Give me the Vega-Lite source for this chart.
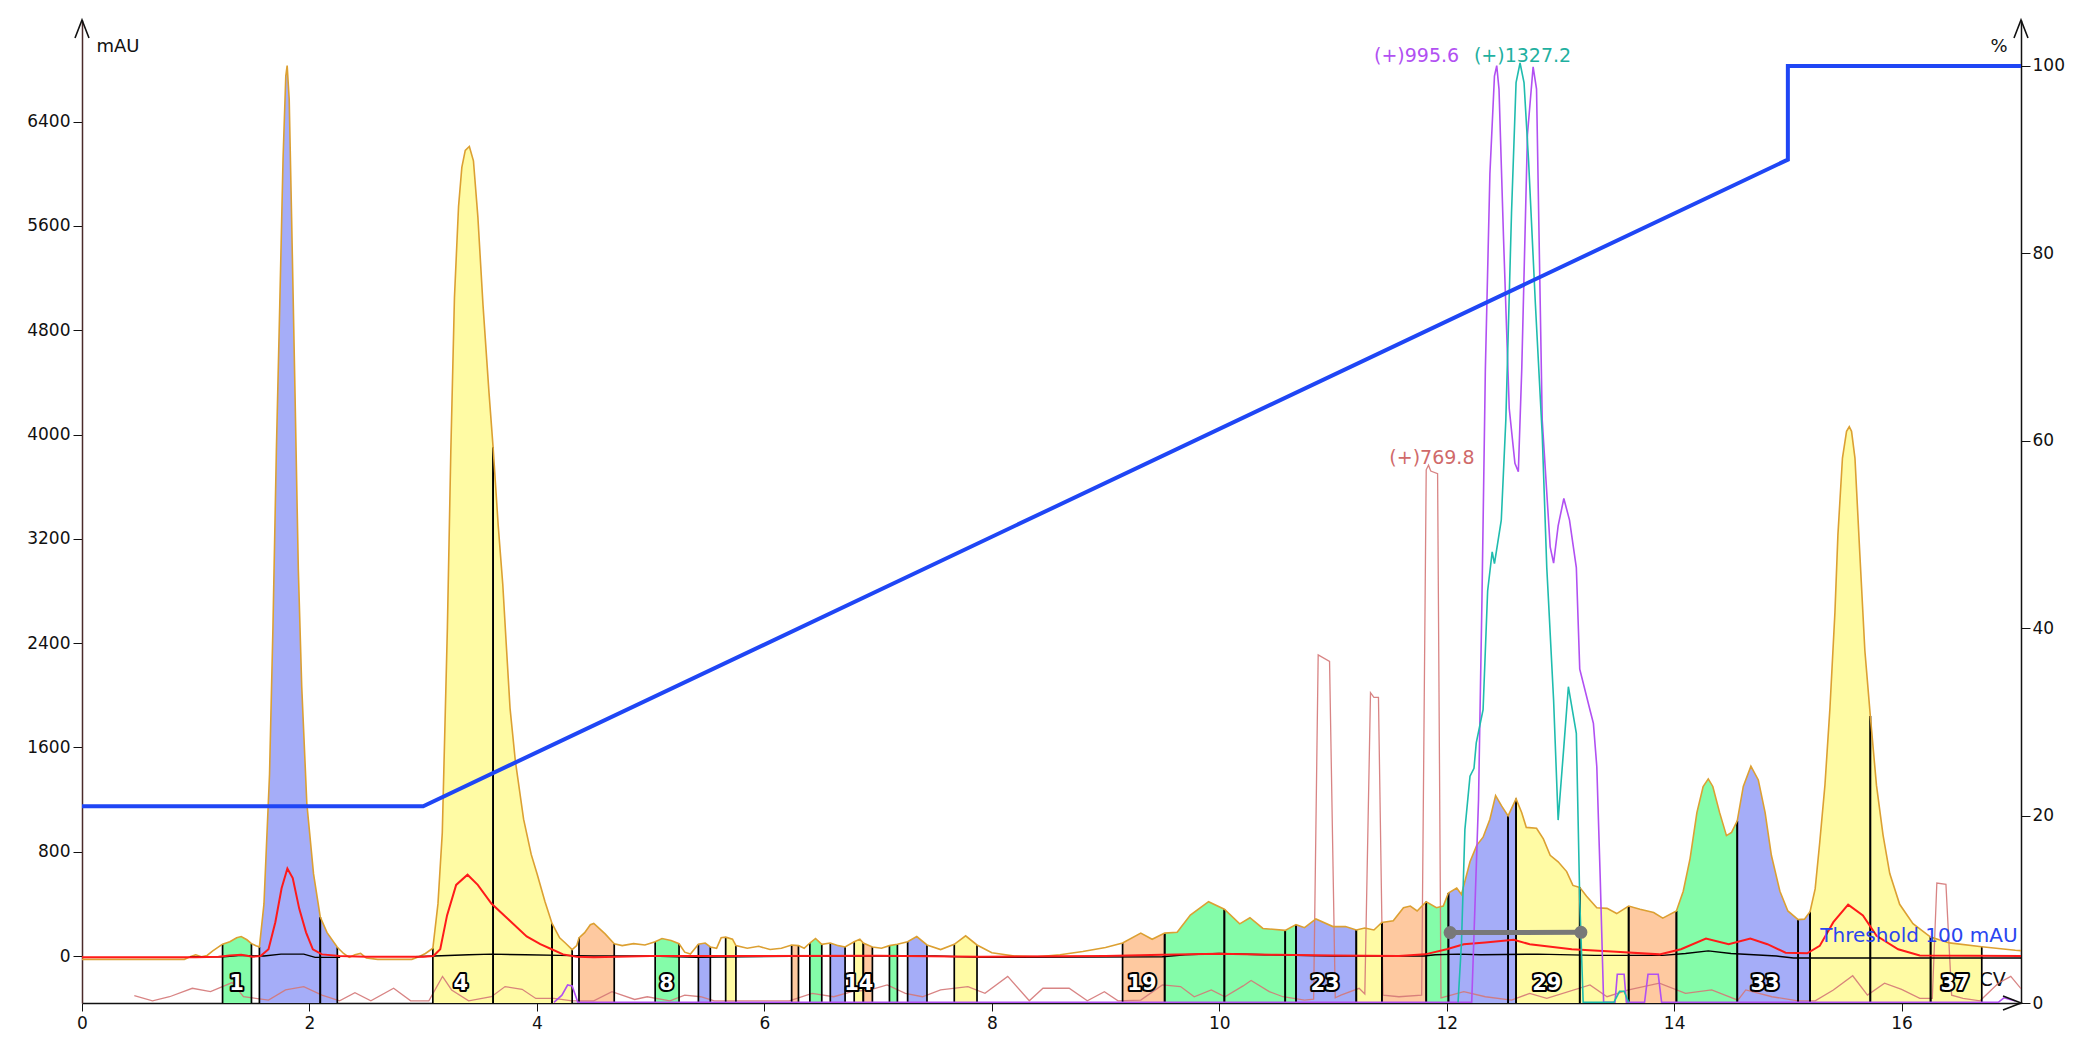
{
  "$schema": "https://vega.github.io/schema/vega-lite/v6.json",
  "width": 1939,
  "height": 983,
  "autosize": {"type": "none"},
  "padding": {"left": 82, "top": 20, "right": 61, "bottom": 40},
  "background": "white",
  "config": {"view": {"stroke": null}, "font": "DejaVu Sans"},
  "datasets": {
    "uv": [
      {"x":0,"y":-25},{"x":0.5,"y":-25},{"x":0.9,"y":-25},{"x":0.95,"y":-5},{"x":1.0,"y":10},{"x":1.05,"y":-5},{"x":1.1,"y":5},{"x":1.15,"y":40},
      {"x":1.236,"y":91,"f":1},{"x":1.3,"y":110,"f":1},{"x":1.36,"y":140,"f":1},{"x":1.4,"y":150,"f":1},{"x":1.45,"y":125,"f":1},{"x":1.49,"y":95,"f":1},
      {"x":1.53,"y":80},
      {"x":1.56,"y":70,"f":2},{"x":1.6,"y":400,"f":2},{"x":1.649,"y":1395,"f":2},{"x":1.679,"y":2520,"f":2},{"x":1.709,"y":3870,"f":2},{"x":1.739,"y":4995,"f":2},{"x":1.768,"y":6120,"f":2},{"x":1.792,"y":6750,"f":2},{"x":1.804,"y":6830,"f":2},{"x":1.822,"y":6570,"f":2},{"x":1.843,"y":5670,"f":2},{"x":1.873,"y":4320,"f":2},{"x":1.902,"y":2970,"f":2},{"x":1.932,"y":2070,"f":2},{"x":1.977,"y":1170,"f":2},{"x":2.036,"y":630,"f":2},{"x":2.095,"y":300,"f":2},
      {"x":2.095,"y":300,"f":3},{"x":2.155,"y":180,"f":3},{"x":2.245,"y":68,"f":3},
      {"x":2.3,"y":20},{"x":2.35,"y":-10},{"x":2.4,"y":10},{"x":2.45,"y":20},{"x":2.5,"y":-15},{"x":2.6,"y":-25},{"x":2.9,"y":-25},{"x":2.95,"y":-10},{"x":3.02,"y":20},
      {"x":3.085,"y":60,"f":4},{"x":3.13,"y":400,"f":4},{"x":3.168,"y":945,"f":4},{"x":3.213,"y":2520,"f":4},{"x":3.243,"y":3870,"f":4},{"x":3.275,"y":5050,"f":4},{"x":3.311,"y":5750,"f":4},{"x":3.34,"y":6050,"f":4},{"x":3.37,"y":6180,"f":4},{"x":3.406,"y":6210,"f":4},{"x":3.442,"y":6100,"f":4},{"x":3.481,"y":5670,"f":4},{"x":3.526,"y":4995,"f":4},{"x":3.579,"y":4320,"f":4},{"x":3.615,"y":3900,"f":4},
      {"x":3.615,"y":3900,"f":5},{"x":3.66,"y":3300,"f":5},{"x":3.7,"y":2850,"f":5},{"x":3.73,"y":2400,"f":5},{"x":3.764,"y":1900,"f":5},{"x":3.81,"y":1500,"f":5},{"x":3.883,"y":1050,"f":5},{"x":3.95,"y":780,"f":5},{"x":4.002,"y":630,"f":5},{"x":4.07,"y":420,"f":5},{"x":4.133,"y":250,"f":5},
      {"x":4.133,"y":250,"f":6},{"x":4.2,"y":140,"f":6},{"x":4.25,"y":100,"f":6},{"x":4.31,"y":50,"f":6},
      {"x":4.35,"y":80},
      {"x":4.37,"y":140,"f":7},{"x":4.42,"y":180,"f":7},{"x":4.47,"y":240,"f":7},{"x":4.5,"y":250,"f":7},{"x":4.55,"y":210,"f":7},{"x":4.6,"y":170,"f":7},{"x":4.68,"y":95,"f":7},
      {"x":4.75,"y":80},{"x":4.85,"y":95},{"x":4.95,"y":85},
      {"x":5.04,"y":110,"f":8},{"x":5.1,"y":135,"f":8},{"x":5.18,"y":120,"f":8},{"x":5.25,"y":95,"f":8},
      {"x":5.3,"y":30},{"x":5.35,"y":15},
      {"x":5.42,"y":90,"f":9},{"x":5.48,"y":100,"f":9},{"x":5.525,"y":70,"f":9},
      {"x":5.58,"y":60},{"x":5.62,"y":140},
      {"x":5.66,"y":145,"f":10},{"x":5.72,"y":130,"f":10},{"x":5.75,"y":80,"f":10},
      {"x":5.85,"y":60},{"x":5.95,"y":75},{"x":6.05,"y":50},{"x":6.15,"y":60},
      {"x":6.24,"y":85,"f":11},{"x":6.3,"y":80,"f":11},
      {"x":6.35,"y":60},
      {"x":6.4,"y":100,"f":12},{"x":6.45,"y":135,"f":12},{"x":6.505,"y":90,"f":12},
      {"x":6.58,"y":100,"f":13},{"x":6.65,"y":80,"f":13},{"x":6.71,"y":70,"f":13},
      {"x":6.79,"y":110,"f":14},{"x":6.84,"y":130,"f":14},{"x":6.87,"y":100,"f":14},
      {"x":6.87,"y":100,"f":15},{"x":6.95,"y":70,"f":15},
      {"x":7.03,"y":60},
      {"x":7.1,"y":80,"f":16},{"x":7.17,"y":90,"f":16},
      {"x":7.26,"y":110,"f":17},{"x":7.34,"y":150,"f":17},{"x":7.43,"y":85,"f":17},
      {"x":7.55,"y":50},
      {"x":7.67,"y":90,"f":18},{"x":7.77,"y":155,"f":18},{"x":7.87,"y":85,"f":18},
      {"x":8.0,"y":25},{"x":8.2,"y":0},{"x":8.4,"y":-5},{"x":8.6,"y":10},{"x":8.8,"y":35},{"x":9.0,"y":65},
      {"x":9.15,"y":100,"f":19},{"x":9.31,"y":176,"f":19},{"x":9.41,"y":129,"f":19},{"x":9.52,"y":176,"f":19},
      {"x":9.52,"y":176,"f":20},{"x":9.63,"y":182,"f":20},{"x":9.746,"y":315,"f":20},{"x":9.906,"y":417,"f":20},{"x":10.045,"y":359,"f":20},
      {"x":10.045,"y":359,"f":21},{"x":10.18,"y":247,"f":21},{"x":10.27,"y":294,"f":21},{"x":10.384,"y":212,"f":21},{"x":10.58,"y":197,"f":21},
      {"x":10.58,"y":197,"f":22},{"x":10.675,"y":241,"f":22},
      {"x":10.675,"y":241,"f":23},{"x":10.75,"y":218,"f":23},{"x":10.85,"y":285,"f":23},{"x":11.0,"y":226,"f":23},{"x":11.11,"y":226,"f":23},{"x":11.205,"y":200,"f":23},
      {"x":11.205,"y":200,"f":24},{"x":11.28,"y":215,"f":24},{"x":11.36,"y":200,"f":24},{"x":11.43,"y":258,"f":24},
      {"x":11.43,"y":258,"f":25},{"x":11.53,"y":271,"f":25},{"x":11.62,"y":371,"f":25},{"x":11.68,"y":384,"f":25},{"x":11.74,"y":346,"f":25},{"x":11.82,"y":417,"f":25},
      {"x":11.82,"y":417,"f":26},{"x":11.91,"y":371,"f":26},{"x":11.97,"y":384,"f":26},{"x":12.015,"y":484,"f":26},
      {"x":12.015,"y":484,"f":27},{"x":12.088,"y":522,"f":27},{"x":12.13,"y":472,"f":27},{"x":12.205,"y":723,"f":27},{"x":12.264,"y":849,"f":27},{"x":12.32,"y":912,"f":27},{"x":12.38,"y":1050,"f":27},{"x":12.43,"y":1231,"f":27},{"x":12.484,"y":1150,"f":27},{"x":12.54,"y":1075,"f":27},
      {"x":12.54,"y":1075,"f":28},{"x":12.61,"y":1206,"f":28},
      {"x":12.61,"y":1206,"f":29},{"x":12.66,"y":1100,"f":29},{"x":12.7,"y":987,"f":29},{"x":12.79,"y":980,"f":29},{"x":12.85,"y":899,"f":29},{"x":12.91,"y":773,"f":29},{"x":12.98,"y":723,"f":29},{"x":13.055,"y":648,"f":29},{"x":13.11,"y":542,"f":29},{"x":13.17,"y":527,"f":29},
      {"x":13.17,"y":527,"f":30},{"x":13.23,"y":459,"f":30},{"x":13.32,"y":371,"f":30},{"x":13.41,"y":366,"f":30},{"x":13.495,"y":326,"f":30},{"x":13.6,"y":384,"f":30},
      {"x":13.6,"y":384,"f":31},{"x":13.7,"y":359,"f":31},{"x":13.82,"y":334,"f":31},{"x":13.9,"y":291,"f":31},{"x":14.02,"y":346,"f":31},
      {"x":14.02,"y":346,"f":32},{"x":14.08,"y":497,"f":32},{"x":14.14,"y":748,"f":32},{"x":14.2,"y":1100,"f":32},{"x":14.255,"y":1301,"f":32},{"x":14.3,"y":1359,"f":32},{"x":14.34,"y":1301,"f":32},{"x":14.4,"y":1100,"f":32},{"x":14.46,"y":924,"f":32},{"x":14.505,"y":949,"f":32},{"x":14.555,"y":1037,"f":32},
      {"x":14.555,"y":1037,"f":33},{"x":14.608,"y":1301,"f":33},{"x":14.675,"y":1457,"f":33},{"x":14.74,"y":1351,"f":33},{"x":14.8,"y":1100,"f":33},{"x":14.855,"y":773,"f":33},{"x":14.93,"y":497,"f":33},{"x":15.0,"y":346,"f":33},{"x":15.09,"y":280,"f":33},
      {"x":15.09,"y":280,"f":34},{"x":15.146,"y":283,"f":34},{"x":15.195,"y":340,"f":34},
      {"x":15.195,"y":340,"f":35},{"x":15.24,"y":515,"f":35},{"x":15.28,"y":869,"f":35},{"x":15.326,"y":1311,"f":35},{"x":15.37,"y":1902,"f":35},{"x":15.414,"y":2638,"f":35},{"x":15.44,"y":3229,"f":35},{"x":15.48,"y":3820,"f":35},{"x":15.516,"y":4025,"f":35},{"x":15.54,"y":4060,"f":35},{"x":15.56,"y":4025,"f":35},{"x":15.59,"y":3820,"f":35},{"x":15.633,"y":3081,"f":35},{"x":15.677,"y":2344,"f":35},{"x":15.725,"y":1842,"f":35},
      {"x":15.725,"y":1842,"f":36},{"x":15.779,"y":1311,"f":36},{"x":15.837,"y":928,"f":36},{"x":15.896,"y":633,"f":36},{"x":15.983,"y":397,"f":36},{"x":16.1,"y":249,"f":36},{"x":16.255,"y":146,"f":36},
      {"x":16.255,"y":146,"f":37},{"x":16.42,"y":101,"f":37},{"x":16.705,"y":72,"f":37},
      {"x":17.0,"y":45},{"x":17.05,"y":42}
    ],
    "fractions": [
      {"f":1,"c":"G"},{"f":2,"c":"B"},{"f":3,"c":"B"},{"f":4,"c":"Y"},{"f":5,"c":"Y"},{"f":6,"c":"Y"},{"f":7,"c":"O"},{"f":8,"c":"G"},{"f":9,"c":"B"},{"f":10,"c":"Y"},
      {"f":11,"c":"O"},{"f":12,"c":"G"},{"f":13,"c":"B"},{"f":14,"c":"Y"},{"f":15,"c":"O"},{"f":16,"c":"G"},{"f":17,"c":"B"},{"f":18,"c":"Y"},{"f":19,"c":"O"},{"f":20,"c":"G"},
      {"f":21,"c":"G"},{"f":22,"c":"G"},{"f":23,"c":"B"},{"f":24,"c":"Y"},{"f":25,"c":"O"},{"f":26,"c":"G"},{"f":27,"c":"B"},{"f":28,"c":"B"},{"f":29,"c":"Y"},{"f":30,"c":"Y"},
      {"f":31,"c":"O"},{"f":32,"c":"G"},{"f":33,"c":"B"},{"f":34,"c":"B"},{"f":35,"c":"Y"},{"f":36,"c":"Y"},{"f":37,"c":"Y"}
    ],
    "fraclabels": [
      {"x":1.36,"y":-215,"t":"1"},{"x":3.33,"y":-215,"t":"4"},{"x":5.14,"y":-215,"t":"8"},{"x":6.83,"y":-215,"t":"14"},{"x":9.32,"y":-215,"t":"19"},{"x":10.93,"y":-215,"t":"23"},{"x":12.88,"y":-215,"t":"29"},{"x":14.8,"y":-215,"t":"33"},{"x":16.47,"y":-215,"t":"37"}
    ],
    "red": [
      {"x":0,"y":-10},{"x":1.0,"y":-10},{"x":1.2,"y":-5},{"x":1.3,"y":5},{"x":1.4,"y":10},{"x":1.5,"y":-5},{"x":1.57,"y":0},{"x":1.64,"y":52},{"x":1.7,"y":260},{"x":1.755,"y":520},{"x":1.806,"y":671},{"x":1.853,"y":598},{"x":1.91,"y":364},{"x":1.97,"y":182},{"x":2.03,"y":52},{"x":2.11,"y":13},{"x":2.265,"y":0},{"x":2.5,"y":-5},{"x":3.0,"y":-5},
      {"x":3.09,"y":0},{"x":3.15,"y":52},{"x":3.21,"y":312},{"x":3.29,"y":546},{"x":3.39,"y":624},{"x":3.48,"y":546},{"x":3.6,"y":403},{"x":3.76,"y":273},{"x":3.91,"y":151},{"x":4.03,"y":91},{"x":4.13,"y":52},{"x":4.23,"y":13},{"x":4.35,"y":-5},{"x":4.5,"y":-10},
      {"x":5.0,"y":0},{"x":6.0,"y":0},{"x":7.0,"y":3},{"x":7.9,"y":-5},{"x":9.0,"y":0},{"x":9.5,"y":10},{"x":10.0,"y":18},{"x":10.5,"y":10},{"x":11.0,"y":5},{"x":11.58,"y":0},{"x":11.81,"y":13},{"x":12.0,"y":52},{"x":12.15,"y":91},{"x":12.34,"y":104},{"x":12.59,"y":125},{"x":12.73,"y":91},{"x":13.1,"y":52},{"x":13.49,"y":34},{"x":13.87,"y":13},
      {"x":14.06,"y":52},{"x":14.28,"y":135},{"x":14.48,"y":91},{"x":14.67,"y":135},{"x":14.82,"y":91},{"x":14.98,"y":26},{"x":15.17,"y":21},{"x":15.28,"y":78},{"x":15.4,"y":260},{"x":15.53,"y":395},{"x":15.66,"y":312},{"x":15.78,"y":156},{"x":15.97,"y":52},{"x":16.16,"y":5},{"x":17.05,"y":0}
    ],
    "black": [
      {"x":0.95,"y":-5,"s":1},{"x":1.25,"y":-5,"s":1},{"x":1.4,"y":5,"s":1},{"x":1.6,"y":0,"s":1},{"x":1.75,"y":15,"s":1},{"x":1.95,"y":15,"s":1},{"x":2.05,"y":-10,"s":1},{"x":2.27,"y":-10,"s":1},
      {"x":2.93,"y":-5,"s":2},{"x":3.1,"y":0,"s":2},{"x":3.4,"y":10,"s":2},{"x":3.6,"y":15,"s":2},{"x":3.9,"y":10,"s":2},{"x":4.2,"y":5,"s":2},{"x":4.5,"y":0,"s":2},{"x":5.0,"y":0,"s":2},{"x":5.4,"y":-10,"s":2},{"x":5.8,"y":-5,"s":2},{"x":6.5,"y":0,"s":2},{"x":7.5,"y":0,"s":2},{"x":7.9,"y":-10,"s":2},{"x":9.5,"y":-5,"s":2},{"x":9.7,"y":10,"s":2},{"x":10.0,"y":20,"s":2},{"x":10.4,"y":10,"s":2},{"x":11.0,"y":0,"s":2},{"x":11.8,"y":0,"s":2},{"x":11.9,"y":10,"s":2},{"x":12.1,"y":15,"s":2},{"x":12.3,"y":10,"s":2},{"x":12.8,"y":15,"s":2},{"x":13.3,"y":5,"s":2},{"x":13.9,"y":5,"s":2},{"x":14.1,"y":20,"s":2},{"x":14.3,"y":40,"s":2},{"x":14.5,"y":20,"s":2},{"x":14.9,"y":0,"s":2},{"x":15.05,"y":-15,"s":2},{"x":16.0,"y":-15,"s":2},{"x":17.05,"y":-15,"s":2}
    ],
    "salmon": [
      {"x":0.46,"y":-304},{"x":0.62,"y":-343},{"x":0.77,"y":-312},{"x":0.97,"y":-247},{"x":1.13,"y":-273},{"x":1.32,"y":-203},{"x":1.42,"y":-312},{"x":1.64,"y":-338},{"x":1.79,"y":-260},{"x":1.95,"y":-234},{"x":2.11,"y":-299},{"x":2.265,"y":-343},{"x":2.4,"y":-281},{"x":2.54,"y":-343},{"x":2.74,"y":-247},{"x":2.89,"y":-343},{"x":3.05,"y":-343},{"x":3.17,"y":-156},{"x":3.25,"y":-260},{"x":3.4,"y":-343},{"x":3.6,"y":-312},{"x":3.72,"y":-234},{"x":3.87,"y":-255},{"x":3.99,"y":-325},{"x":4.15,"y":-325},{"x":4.31,"y":-343},{"x":4.5,"y":-343},{"x":4.66,"y":-273},{"x":4.86,"y":-333},{"x":4.97,"y":-312},{"x":5.17,"y":-343},{"x":5.3,"y":-300},{"x":5.44,"y":-312},{"x":5.56,"y":-343},{"x":6.22,"y":-343},{"x":6.42,"y":-286},{"x":6.61,"y":-312},{"x":6.77,"y":-273},{"x":6.93,"y":-260},{"x":7.08,"y":-221},{"x":7.24,"y":-286},{"x":7.39,"y":-312},{"x":7.55,"y":-260},{"x":7.79,"y":-234},{"x":7.94,"y":-286},{"x":8.14,"y":-156},{"x":8.33,"y":-343},{"x":8.45,"y":-247},{"x":8.68,"y":-247},{"x":8.84,"y":-343},{"x":8.99,"y":-273},{"x":9.11,"y":-343},{"x":9.31,"y":-338},{"x":9.5,"y":-221},{"x":9.66,"y":-234},{"x":9.78,"y":-312},{"x":9.93,"y":-260},{"x":10.05,"y":-312},{"x":10.21,"y":-229},{"x":10.28,"y":-187},{"x":10.44,"y":-273},{"x":10.56,"y":-312},{"x":10.75,"y":-338},
      {"x":10.83,"y":-330},{"x":10.87,"y":2310},{"x":10.97,"y":2260},{"x":11.02,"y":-320},{"x":11.07,"y":-299},{"x":11.23,"y":-247},{"x":11.28,"y":-290},{"x":11.33,"y":2020},{"x":11.36,"y":1985},{"x":11.4,"y":1985},{"x":11.44,"y":-300},{"x":11.58,"y":-312},{"x":11.78,"y":-300},{"x":11.82,"y":3730},{"x":11.84,"y":3765},{"x":11.86,"y":3720},{"x":11.92,"y":3700},{"x":11.95,"y":-320},
      {"x":12.15,"y":-273},{"x":12.34,"y":-312},{"x":12.57,"y":-338},{"x":12.73,"y":-286},{"x":12.88,"y":-325},{"x":13.26,"y":-221},{"x":13.41,"y":-312},{"x":13.6,"y":-260},{"x":13.87,"y":-208},{"x":14.1,"y":-286},{"x":14.33,"y":-260},{"x":14.56,"y":-338},{"x":14.63,"y":-260},{"x":14.86,"y":-312},{"x":15.09,"y":-343},{"x":15.24,"y":-343},{"x":15.4,"y":-260},{"x":15.57,"y":-151},{"x":15.7,"y":-299},{"x":15.85,"y":-208},{"x":16.0,"y":-255},{"x":16.16,"y":-325},{"x":16.27,"y":-325},{"x":16.31,"y":560},{"x":16.39,"y":550},{"x":16.44,"y":-300},{"x":16.54,"y":-325},{"x":16.69,"y":-343},{"x":16.85,"y":-208},{"x":16.96,"y":-156},{"x":17.05,"y":-250}
    ],
    "purple": [
      {"x":4.15,"y":-355},{"x":4.22,"y":-300},{"x":4.27,"y":-222},{"x":4.31,"y":-230},{"x":4.36,"y":-355},{"x":12.22,"y":-355},{"x":12.28,"y":1200},{"x":12.31,"y":2730},{"x":12.34,"y":4500},{"x":12.38,"y":6000},{"x":12.42,"y":6750},{"x":12.44,"y":6830},{"x":12.46,"y":6650},{"x":12.5,"y":5500},{"x":12.55,"y":4200},{"x":12.6,"y":3780},{"x":12.63,"y":3715},{"x":12.66,"y":4500},{"x":12.71,"y":6300},{"x":12.76,"y":6820},{"x":12.79,"y":6650},{"x":12.84,"y":4111},{"x":12.91,"y":3139},{"x":12.94,"y":3014},{"x":12.98,"y":3300},{"x":13.03,"y":3510},{"x":13.08,"y":3344},{"x":13.14,"y":2980},{"x":13.17,"y":2200},{"x":13.26,"y":1887},{"x":13.29,"y":1785},{"x":13.32,"y":1452},{"x":13.35,"y":600},{"x":13.38,"y":-355},{"x":13.48,"y":-355},{"x":13.5,"y":-140},{"x":13.56,"y":-140},{"x":13.58,"y":-355},{"x":13.74,"y":-355},{"x":13.77,"y":-140},{"x":13.86,"y":-140},{"x":13.89,"y":-355},{"x":16.85,"y":-355},{"x":16.9,"y":-320},{"x":17.0,"y":-345}
    ],
    "teal": [
      {"x":12.1,"y":-355},{"x":12.13,"y":100},{"x":12.16,"y":970},{"x":12.205,"y":1380},{"x":12.24,"y":1440},{"x":12.26,"y":1635},{"x":12.32,"y":1890},{"x":12.36,"y":2800},{"x":12.4,"y":3100},{"x":12.42,"y":3010},{"x":12.48,"y":3344},{"x":12.52,"y":4111},{"x":12.57,"y":5700},{"x":12.61,"y":6700},{"x":12.645,"y":6850},{"x":12.68,"y":6700},{"x":12.72,"y":6100},{"x":12.78,"y":5000},{"x":12.84,"y":4000},{"x":12.88,"y":2980},{"x":12.895,"y":2730},{"x":12.94,"y":1964},{"x":12.98,"y":1043},{"x":13.03,"y":1605},{"x":13.07,"y":2066},{"x":13.14,"y":1708},{"x":13.17,"y":430},{"x":13.2,"y":-355},{"x":13.47,"y":-355},{"x":13.52,"y":-270},{"x":13.56,"y":-270},{"x":13.6,"y":-355}
    ],
    "peaklabels": [
      {"x":11.735,"y":6905,"t":"(+)995.6"},{"x":12.667,"y":6905,"t":"(+)1327.2"},{"x":11.87,"y":3820,"t":"(+)769.8"}
    ],
    "thresholdlabel": [{"x":17.02,"y":106,"t":"Threshold 100 mAU"}],
    "injection": [{"x":12.03,"y":180},{"x":13.18,"y":182}],
    "span": [{"x":0},{"x":17.05}],
    "arrows": [{"x":0,"y":7180,"d":"up"},{"x":17.05,"y":7180,"d":"up"},{"x":17.05,"y":-360,"d":"right"}],
    "gradient": [{"i":1,"x":0,"p":21},{"i":2,"x":3,"p":21},{"i":3,"x":15,"p":90},{"i":4,"x":15,"p":100},{"i":5,"x":17.05,"p":100}]
  },
  "encoding": {
    "x": {
      "field": "x", "type": "quantitative",
      "scale": {"domain": [0, 17.05], "nice": false, "zero": false},
      "axis": {
        "values": [0, 2, 4, 6, 8, 10, 12, 14, 16], "grid": false, "title": "CV",
        "titleX": 1910, "titleY": -24, "titleAlign": "center", "titleBaseline": "middle", "titleFontWeight": "normal", "titleFontSize": 19, "titleColor": "#111",
        "tickSize": 8, "labelPadding": 4, "labelFontSize": 17, "labelColor": "#111", "domainColor": "#111", "tickColor": "#111", "domainWidth": 1.5, "labelFlush": false
      }
    }
  },
  "layer": [
    {
      "encoding": {
        "y": {
          "field": "y", "type": "quantitative",
          "scale": {"domain": [-360, 7180], "nice": false, "zero": false},
          "axis": {
            "orient": "left", "values": [0, 800, 1600, 2400, 3200, 4000, 4800, 5600, 6400], "format": "d", "grid": false,
            "title": "mAU", "titleAngle": 0, "titleX": 14, "titleY": 26, "titleAlign": "left", "titleBaseline": "middle", "titleFontWeight": "normal", "titleFontSize": 18, "titleColor": "#111",
            "tickSize": 9, "labelPadding": 3, "labelFontSize": 17, "labelColor": "#111", "domainColor": "#4a2a2a", "tickColor": "#111", "domainWidth": 1.5, "labelOverlap": false, "labelFlush": false
          }
        }
      },
      "layer": [
        {
          "data": {"name": "uv"},
          "transform": [
            {"filter": "datum.f != null"},
            {"lookup": "f", "from": {"data": {"name": "fractions"}, "key": "f", "fields": ["c"]}}
          ],
          "mark": {"type": "area", "opacity": 1, "clip": true},
          "encoding": {
            "y2": {"datum": -360},
            "fill": {"field": "c", "type": "nominal", "scale": {"domain": ["B", "Y", "G", "O"], "range": ["#a5adf8", "#fffba4", "#84fca9", "#fec9a0"]}, "legend": null},
            "detail": {"field": "f", "type": "nominal"}
          }
        },
        {
          "data": {"name": "salmon"},
          "mark": {"type": "line", "color": "#d47777", "strokeWidth": 1.3, "opacity": 0.9, "clip": true},
          "encoding": {}
        },
        {
          "data": {"name": "span"},
          "mark": {"type": "line", "color": "#2a55f5", "strokeWidth": 2, "strokeDash": [18, 9], "clip": true},
          "encoding": {"y": {"datum": 100}}
        },
        {
          "data": {"name": "uv"},
          "transform": [
            {"filter": "datum.f != null"},
            {"joinaggregate": [{"op": "min", "field": "x", "as": "mn"}, {"op": "max", "field": "x", "as": "mx"}], "groupby": ["f"]},
            {"filter": "datum.x == datum.mn || datum.x == datum.mx"}
          ],
          "mark": {"type": "rule", "color": "#000", "strokeWidth": 1.7},
          "encoding": {"y2": {"datum": -360}}
        },
        {
          "data": {"name": "uv"},
          "mark": {"type": "line", "color": "#dca032", "strokeWidth": 1.6, "clip": true},
          "encoding": {}
        },
        {
          "data": {"name": "black"},
          "mark": {"type": "line", "color": "#000", "strokeWidth": 1.4, "clip": true},
          "encoding": {"detail": {"field": "s", "type": "nominal"}}
        },
        {
          "data": {"name": "red"},
          "mark": {"type": "line", "color": "#ff1a1a", "strokeWidth": 2, "clip": true},
          "encoding": {}
        },
        {
          "data": {"name": "purple"},
          "mark": {"type": "line", "color": "#b150f2", "strokeWidth": 1.6, "clip": true},
          "encoding": {}
        },
        {
          "data": {"name": "teal"},
          "mark": {"type": "line", "color": "#1fbcae", "strokeWidth": 1.6, "clip": true},
          "encoding": {}
        },
        {
          "data": {"name": "injection"},
          "mark": {"type": "line", "color": "#787878", "strokeWidth": 5},
          "encoding": {}
        },
        {
          "data": {"name": "injection"},
          "mark": {"type": "point", "filled": true, "color": "#787878", "size": 170, "opacity": 1},
          "encoding": {}
        },
        {
          "data": {"name": "fraclabels"},
          "mark": {"type": "text", "fontSize": 21, "fontWeight": "bold", "color": "#000", "stroke": "#000", "strokeWidth": 4, "strokeJoin": "round", "align": "center", "baseline": "middle"},
          "encoding": {"text": {"field": "t", "type": "nominal"}}
        },
        {
          "data": {"name": "fraclabels"},
          "mark": {"type": "text", "fontSize": 21, "fontWeight": "bold", "color": "#fff", "align": "center", "baseline": "middle"},
          "encoding": {"text": {"field": "t", "type": "nominal"}}
        },
        {
          "data": {"name": "peaklabels"},
          "mark": {"type": "text", "fontSize": 19, "align": "center", "baseline": "middle"},
          "encoding": {
            "text": {"field": "t", "type": "nominal"},
            "color": {"field": "t", "type": "nominal", "scale": {"domain": ["(+)995.6", "(+)1327.2", "(+)769.8"], "range": ["#b150f2", "#1fb0a0", "#d06a6a"]}, "legend": null}
          }
        },
        {
          "data": {"name": "thresholdlabel"},
          "mark": {"type": "text", "fontSize": 20, "align": "right", "baseline": "alphabetic", "color": "#2a45f0"},
          "encoding": {"text": {"field": "t", "type": "nominal"}}
        },
        {
          "data": {"name": "arrows"},
          "mark": {"type": "point", "filled": false, "color": "#111", "strokeWidth": 1.6, "size": 400, "opacity": 1},
          "encoding": {
            "shape": {"field": "d", "type": "nominal", "scale": {"domain": ["up", "right"], "range": ["M-0.7,1.8L0,0L0.7,1.8", "M-1.8,-0.7L0,0L-1.8,0.7"]}, "legend": null}
          }
        }
      ]
    },
    {
      "data": {"name": "gradient"},
      "mark": {"type": "line", "color": "#1f46f5", "strokeWidth": 4, "clip": true},
      "encoding": {
        "y": {
          "field": "p", "type": "quantitative",
          "scale": {"domain": [0, 104.9], "nice": false, "zero": false},
          "axis": {
            "orient": "right", "values": [0, 20, 40, 60, 80, 100], "grid": false,
            "title": "%", "titleAngle": 0, "titleX": -14, "titleY": 26, "titleAlign": "right", "titleBaseline": "middle", "titleFontWeight": "normal", "titleFontSize": 18, "titleColor": "#111",
            "tickSize": 9, "labelPadding": 2, "labelFontSize": 17, "labelColor": "#111", "domainColor": "#111", "tickColor": "#111", "domainWidth": 1.5, "labelOverlap": false, "labelFlush": false
          }
        },
        "order": {"field": "i", "type": "quantitative"}
      }
    }
  ],
  "resolve": {"scale": {"y": "independent"}}
}
